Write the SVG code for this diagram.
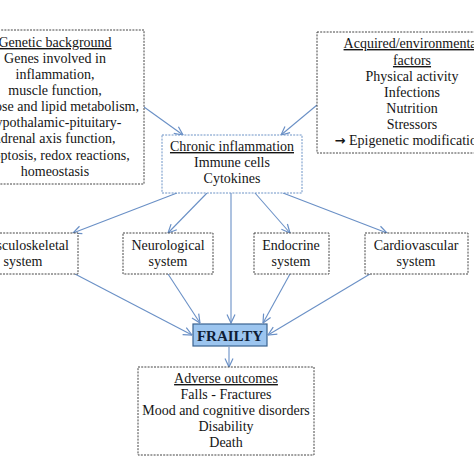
<svg xmlns="http://www.w3.org/2000/svg" width="474" height="474" viewBox="0 0 474 474">
<defs>
<style>
.box{fill:#fff;stroke:#444;stroke-width:1;stroke-dasharray:2,1.2}
.bbox{fill:#fff;stroke:#6d93c6;stroke-width:1;stroke-dasharray:2,1.2}
text{font-family:"Liberation Serif","Times New Roman",serif;font-size:14px;fill:#151515;text-anchor:middle}
.u{text-decoration:underline}
.c{fill:none;stroke:#6a90c6;stroke-width:1.1;marker-end:url(#ah)}
</style>
<marker id="ah" markerUnits="userSpaceOnUse" viewBox="0 0 10 10" refX="9.5" refY="5" markerWidth="10" markerHeight="10" orient="auto">
<path d="M1,1 L9.5,5 L1,9" fill="none" stroke="#6a90c6" stroke-width="1.2"/>
</marker>
</defs>
<rect width="474" height="474" fill="#fff"/>
<g id="connectors">
<line class="c" x1="144" y1="107" x2="183" y2="135"/>
<line class="c" x1="317" y1="105" x2="281" y2="135"/>
<line class="c" x1="177" y1="193" x2="73" y2="233"/>
<line class="c" x1="207" y1="193" x2="168" y2="233"/>
<line class="c" x1="231" y1="193" x2="231" y2="323"/>
<line class="c" x1="255" y1="193" x2="290" y2="233"/>
<line class="c" x1="283" y1="193" x2="387" y2="233"/>
<line class="c" x1="75" y1="274" x2="192" y2="335"/>
<line class="c" x1="168" y1="274" x2="200" y2="323"/>
<line class="c" x1="290" y1="274" x2="263" y2="323"/>
<line class="c" x1="370" y1="274" x2="268" y2="335"/>
<line class="c" x1="229" y1="347" x2="229" y2="367"/>
</g>
<g id="genetic">
<rect class="box" x="-34" y="30" width="178" height="154"/>
<text x="55" y="47" class="u">Genetic background</text>
<text x="55" y="63">Genes involved  in</text>
<text x="55" y="79">inflammation,</text>
<text x="55" y="95">muscle function,</text>
<text x="55" y="111">glucose and lipid metabolism,</text>
<text x="55" y="127">hypothalamic-pituitary-</text>
<text x="55" y="143">adrenal axis function,</text>
<text x="55" y="160">apoptosis, redox reactions,</text>
<text x="55" y="176">homeostasis</text>
</g>
<g id="acquired">
<rect class="box" x="317" y="32" width="190" height="121"/>
<text x="412" y="48" class="u">Acquired/environmental</text>
<text x="412" y="65" class="u">factors</text>
<text x="412" y="81">Physical activity</text>
<text x="412" y="97">Infections</text>
<text x="412" y="113">Nutrition</text>
<text x="412" y="129">Stressors</text>
<text x="412" y="145"><tspan style="font-family:'DejaVu Sans',sans-serif;font-weight:bold;font-size:13px">→</tspan> Epigenetic modifications</text>
</g>
<g id="chronic">
<rect class="bbox" x="162" y="135" width="140" height="58"/>
<text x="232" y="151" class="u">Chronic inflammation</text>
<text x="232" y="167">Immune cells</text>
<text x="232" y="183">Cytokines</text>
</g>
<g id="musculoskeletal">
<rect class="box" x="-32" y="233" width="110" height="41"/>
<text x="23" y="250">Musculoskeletal</text>
<text x="23" y="266">system</text>
</g>
<g id="neurological">
<rect class="box" x="123" y="233" width="90" height="41"/>
<text x="168" y="250">Neurological</text>
<text x="168" y="266">system</text>
</g>
<g id="endocrine">
<rect class="box" x="254" y="233" width="75" height="41"/>
<text x="291" y="250">Endocrine</text>
<text x="291" y="266">system</text>
</g>
<g id="cardiovascular">
<rect class="box" x="365" y="233" width="103" height="41"/>
<text x="416" y="250">Cardiovascular</text>
<text x="416" y="266">system</text>
</g>
<g id="frailty">
<rect x="193" y="324" width="74" height="22" fill="#9cc5ef" stroke="#3a6390" stroke-width="1.2"/>
<text x="230" y="341" style="font-weight:bold;font-size:15px;fill:#0f1d35">FRAILTY</text>
</g>
<g id="adverse">
<rect class="box" x="138" y="367" width="176" height="88"/>
<text x="226" y="383" class="u">Adverse outcomes</text>
<text x="226" y="399">Falls - Fractures</text>
<text x="226" y="415">Mood and cognitive  disorders</text>
<text x="226" y="431">Disability</text>
<text x="226" y="447">Death</text>
</g>
</svg>
